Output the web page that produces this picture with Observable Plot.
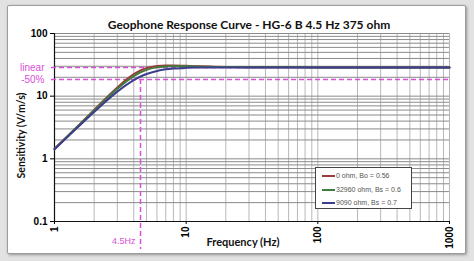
<!DOCTYPE html>
<html><head><meta charset="utf-8">
<script src="https://cdn.jsdelivr.net/npm/d3@7"></script>
<script src="https://cdn.jsdelivr.net/npm/@observablehq/plot@0.6"></script>
<style>
body{margin:0;background:#e2e2e2;}
#wrap{position:relative;width:474px;height:261px;overflow:hidden;}
#frame{position:absolute;left:7px;top:5px;width:457px;height:247px;background:#fff;border:1px solid #9c9c9c;box-shadow:1px 1px 3px rgba(0,0,0,0.35);border-radius:2px;}
#chart{position:absolute;left:0;top:0;}
#legend{position:absolute;left:315px;top:167px;width:97px;height:42px;border:1px solid #444;background:#fff;font:7px "Liberation Sans",Arial,sans-serif;color:#555;box-sizing:border-box;}
#legend .it{position:absolute;left:6px;height:10px;line-height:10px;white-space:nowrap;}
#legend .sw{display:inline-block;width:13px;height:2px;vertical-align:middle;margin-right:1px;}
</style></head>
<body><div id="wrap"><div id="frame"></div><div id="chart"></div><div id="legend"></div></div>
<script>
const title = "Geophone Response Curve - HG-6 B 4.5 Hz 375 ohm";
const xLabel = "Frequency (Hz)";
const yLabel = "Sensitivity (V/m/s)";
const seriesNames = ["0 ohm, Bo = 0.56", "32960 ohm, Bs = 0.6", "9090 ohm, Bs = 0.7"];
const seriesColors = ["#9b3b3b", "#3f7d3f", "#3d3d8e"];
const freqs = [1, 1.5, 2, 3, 4, 4.5, 5, 6, 7, 8, 10, 12, 15, 20, 30, 50, 100, 200, 500, 1000];
const s0 = [1.45, 3.32, 6.02, 13.8, 22.4, 25.7, 28.1, 30.4, 31.0, 31.0, 30.5, 30.1, 29.7, 29.3, 29.0, 28.9, 28.8, 28.8, 28.8, 28.8];
const s1 = [1.44, 3.28, 5.90, 13.1, 20.9, 24.0, 26.3, 28.8, 29.7, 30.0, 29.9, 29.7, 29.4, 29.2, 29.0, 28.9, 28.8, 28.8, 28.8, 28.8];
const s2 = [1.42, 3.19, 5.60, 11.8, 18.0, 20.6, 22.6, 25.3, 26.8, 27.6, 28.3, 28.6, 28.7, 28.8, 28.8, 28.8, 28.8, 28.8, 28.8, 28.8];
const xTicks = [1, 10, 100, 1000];
const yTicks = [0.1, 1, 10, 100];
const xGrid = [2,3,4,5,6,7,8,9,10,20,30,40,50,60,70,80,90,100,200,300,400,500,600,700,800,900,1000];
const yGrid = [0.2,0.3,0.4,0.5,0.6,0.7,0.8,0.9,1,2,3,4,5,6,7,8,9,10,20,30,40,50,60,70,80,90,100];
const linearLevel = 28.8;
const halfLevel = 18.5;
const f0 = 4.5;
const refLabels = ["linear", "-50%"];
const f0Label = "4.5Hz";

const series = [s0, s1, s2];
const data = series.flatMap((s, k) => freqs.map((f, i) => ({f, v: s[i], name: seriesNames[k]})));
const magenta = "#d94fd9";

const chart = Plot.plot({
  width: 474, height: 261,
  marginLeft: 54, marginRight: 25, marginTop: 33, marginBottom: 40,
  style: {background: "transparent", fontFamily: "'Liberation Sans', Arial, sans-serif"},
  x: {type: "log", domain: [1, 1000]},
  y: {type: "log", domain: [0.1, 100]},
  color: {domain: seriesNames, range: seriesColors},
  marks: [
    Plot.ruleX(xGrid, {stroke: "#b8b8b8", strokeWidth: 1}),
    Plot.ruleY(yGrid, {stroke: "#8a8a8a", strokeWidth: 1}),
    Plot.axisY({ticks: yTicks, tickFormat: d => String(d), tickSize: 4, tickPadding: 3,
      fontSize: 10, fontWeight: "bold", label: null}),
    Plot.axisX({ticks: xTicks, tickFormat: d => String(d), tickSize: 3, tickPadding: 2, tickRotate: -90,
      fontSize: 10, fontWeight: "bold", label: null}),
    Plot.ruleX([1], {stroke: "#111", strokeWidth: 1.2}),
    Plot.ruleY([0.1], {stroke: "#111", strokeWidth: 1.2}),
    Plot.ruleY([linearLevel, halfLevel], {stroke: magenta, strokeWidth: 1.5, strokeDasharray: "5,3", insetLeft: -3}),
    Plot.ruleX([f0], {y1: halfLevel, y2: 0.1, stroke: magenta, strokeWidth: 1.5, strokeDasharray: "5,3", insetBottom: -28}),
    Plot.line(data, {x: "f", y: "v", stroke: "name", strokeWidth: 2, curve: "monotone-x"}),
    Plot.text(refLabels, {y: [linearLevel, halfLevel], text: d => d, frameAnchor: "left", textAnchor: "end", dx: -10,
      fill: magenta, fontSize: 10}),
    Plot.text([f0Label], {x: [f0], frameAnchor: "bottom", dy: 22, dx: -5, textAnchor: "end", fill: magenta, fontSize: 9}),
    Plot.text([title], {frameAnchor: "top", dy: -13, dx: -3, fontSize: 12, fontWeight: "bold", fontFamily: "Lato, sans-serif", fill: "#111"}),
    Plot.text([xLabel], {frameAnchor: "bottom", dy: 24, dx: -9, fontSize: 11, fontWeight: "bold", fontFamily: "Lato, sans-serif", fill: "#111"}),
    Plot.text([yLabel], {frameAnchor: "left", textAnchor: "middle", dx: -33, dy: 8, rotate: -90, fontSize: 10.5, fontWeight: "bold", fontFamily: "Lato, sans-serif", fill: "#111"})
  ]
});
document.getElementById("chart").appendChild(chart);

const lg = document.getElementById("legend");
seriesNames.forEach((n, i) => {
  const d = document.createElement("div");
  d.className = "it";
  d.style.top = (3 + i * 13.5) + "px";
  d.innerHTML = `<span class="sw" style="background:${seriesColors[i]}"></span>`;
  d.appendChild(document.createTextNode(n));
  lg.appendChild(d);
});
</script></body></html>
